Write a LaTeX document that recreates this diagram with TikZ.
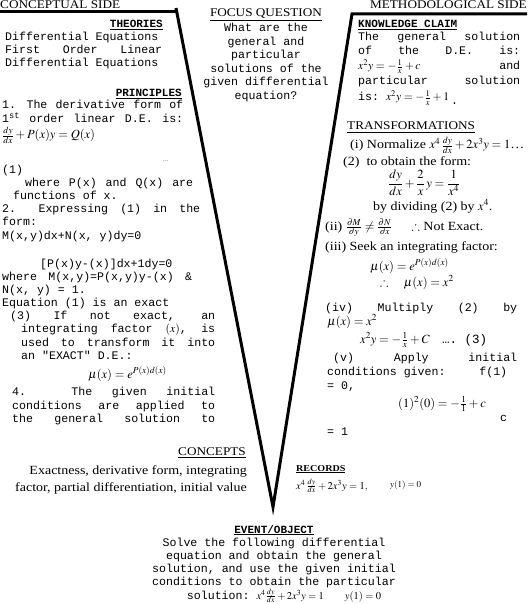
\documentclass[tikz,border=0pt]{standalone}
\usepackage{mathptmx}
\usepackage{amssymb}
\usepackage{fontspec}
\setmainfont{Liberation Serif}[FakeStretch=1.12]
\setmonofont{Liberation Mono}
\usepackage{tikz}

\newcommand\mtxt{\ttfamily\fontsize{11.6}{13}\selectfont}
\newcommand\mhead{\ttfamily\bfseries\fontsize{11}{13}\selectfont}
\newcommand\stxt{\rmfamily\fontsize{12.5}{14}\selectfont}
\newcommand\shead{\rmfamily\fontsize{11.8}{14}\selectfont}
\newcommand\spreadto[2]{\makebox[#1][s]{\spaceskip=.6em plus 1fil\relax#2}}

\tikzset{
  vee/.style={line width=3pt,line join=miter},
  ln/.style={inner sep=0pt,anchor=base west,yshift=-4pt,font=\mtxt},
  lnr/.style={ln,anchor=base east},
  lnc/.style={ln,anchor=base},
  hd/.style={ln,font=\mhead},
  st/.style={ln,font=\stxt},
  sh/.style={ln,font=\shead}
}

\begin{document}
\begin{tikzpicture}[x=1pt,y=-1pt]
  \useasboundingbox (0,0) rectangle (527,604);
  % the vee
  \coordinate (l0) at (0,12); \coordinate (lc) at (176,12);
  \coordinate (lt) at (176,8); \coordinate (tip) at (273,507);
  \coordinate (rt) at (352,14); \coordinate (r0) at (527,14);
  \draw[vee] (l0) -- (lc);
  \draw[vee] (lt) -- (tip) -- (rt) -- (r0);

  % conceptual side
  \node[sh] (csd) at (0,5) {CONCEPTUAL SIDE};
  \node[hd,anchor=base east] (thhead) at (163,24) {\underline{THEORIES}};
  \node[ln] (th1) at (5,37) {Differential Equations};
  \node[ln] (th2) at (5,50) {\spreadto{157pt}{First Order Linear}};
  \node[ln] (th3) at (5,63) {Differential Equations};

  \node[hd,anchor=base east] (prhead) at (182,93) {\underline{PRINCIPLES}};
  \node[ln] (pr1) at (2,105) {\spreadto{181pt}{1. The derivative form of}};
  \node[ln] (pr2) at (2,119) {\spreadto{181pt}{1\textsuperscript{st} order linear D.E. is:}};
  \node[st] (pr3) at (2,135) {$\frac{dy}{dx}+P(x)y=Q(x)$};
  \node[ln,font=\rmfamily\tiny] (pr4) at (163,157) {\dots};
  \node[ln] (pr5) at (2,169) {(1)};
  \node[ln] (pr6) at (25,182) {\spreadto{168pt}{where P(x) and Q(x) are}};
  \node[ln] (pr7) at (13,195) {functions of x.};
  \node[ln] (pr8) at (2,208) {\spreadto{198pt}{2. Expressing (1) in the}};
  \node[ln] (pr9) at (2,221) {form:};
  \node[ln] (pr10) at (2,235) {M(x,y)dx+N(x, y)dy=0};
  \node[ln] (pr11) at (40,263) {[P(x)y-(x)]dx+1dy=0};
  \node[ln] (pr12) at (2,276) {\spreadto{190pt}{where M(x,y)=P(x,y)y-(x) \&}};
  \node[ln] (pr13) at (2,289) {N(x, y) = 1.};
  \node[ln] (pr14) at (2,302) {Equation (1) is an exact};
  \node[ln] (pr15) at (10,315) {\spreadto{205pt}{(3) If not exact, an}};
  \node[ln] (pr16) at (21,328) {\spreadto{194pt}{integrating factor {\rmfamily$(x)$}, is}};
  \node[ln] (pr17) at (21,342) {\spreadto{194pt}{used to transform it into}};
  \node[ln] (pr18) at (21,355) {an "EXACT" D.E.:};
  \node[st] (pr19) at (88,374) {$\mu(x)=e^{P(x)d(x)}$};
  \node[ln] (pr20) at (12,391) {\spreadto{203pt}{4. The given initial}};
  \node[ln] (pr21) at (12,405) {\spreadto{203pt}{conditions are applied to}};
  \node[ln] (pr22) at (12,418) {\spreadto{203pt}{the general solution to}};

  \node[sh,anchor=base east] (cohead) at (246,451) {\underline{CONCEPTS}};
  \node[st,anchor=base east] (co1) at (247,470) {Exactness, derivative form, integrating};
  \node[st,anchor=base east] (co2) at (247,487) {factor, partial differentiation, initial value};

  % focus question
  \node[sh,anchor=base] (fqhead) at (266,13) {\underline{FOCUS QUESTION}};
  \foreach \t [count=\i] in {What are the,general and,particular,solutions of the,given differential,equation?}
    {\node[lnc] (fq\i) at (266,14.5+13.5*\i) {\t};}

  % methodological side
  \node[sh,anchor=base east] (msd) at (527,5) {METHODOLOGICAL SIDE};
  \node[hd] (kchead) at (358,24) {\underline{KNOWLEDGE CLAIM}};
  \node[ln] (kc1) at (358,37) {\spreadto{162pt}{The general solution}};
  \node[ln] (kc2) at (358,51) {\spreadto{162pt}{of the D.E. is:}};
  \node[ln] (kc3) at (358,66) {\makebox[162pt][l]{{\rmfamily$x^2y=-\frac{1}{x}+c$}\hfill and}};
  \node[ln] (kc4) at (358,81) {\spreadto{162pt}{particular solution}};
  \node[ln] (kc5) at (358,97) {is: {\rmfamily$x^2y=-\frac{1}{x}+1$}\,\raisebox{-4pt}{.}};

  \node[sh] (trhead) at (347,126) {\underline{TRANSFORMATIONS}};
  \node[st] (tr1) at (350,145) {(i) Normalize $x^4\,\frac{dy}{dx}+2x^3y=1$\dots};
  \node[st] (tr2) at (343,161) {(2)\ \ to obtain the form:};
  \node[st] (tr3) at (388,183) {$\displaystyle\frac{dy}{dx}+\frac{2}{x}\,y=\frac{1}{x^4}$};
  \node[st] (tr4) at (373,206) {by dividing (2) by $x^4$.};
  \node[st] (tr5) at (325,226) {(ii) $\frac{\partial M}{\partial y}\ne\frac{\partial N}{\partial x}$\quad\ \ $\therefore$ Not Exact.};
  \node[st] (tr6) at (325,246) {(iii) Seek an integrating factor:};
  \node[st] (tr7) at (370,266) {$\mu(x)=e^{P(x)d(x)}$};
  \node[st] (tr8) at (380,282) {$\therefore\quad\mu(x)=x^2$};
  \node[ln] (tr9) at (325,307) {\spreadto{192pt}{(iv) Multiply (2) by}};
  \node[st] (tr10) at (327,321) {$\mu(x)=x^2$};
  \node[st] (tr11) at (360,339) {$x^2y=-\frac{1}{x}+C$\quad\texttt{\dots. (3)}};
  \node[ln] (tr12) at (333,357) {\spreadto{184pt}{(v) Apply initial}};
  \node[ln] (tr13) at (327,371) {\makebox[180pt][l]{conditions given:\hfill f(1)}};
  \node[ln] (tr14) at (327,385) {= 0,};
  \node[st] (tr15) at (398,403) {$(1)^2(0)=-\frac{1}{1}+c$};
  \node[ln] (tr16) at (500,417) {c};
  \node[ln] (tr17) at (327,431) {= 1};

  % records and event
  \node[ln,font=\rmfamily\bfseries\fontsize{9}{10}\selectfont] (rechead) at (296,467) {\underline{RECORDS}};
  \node[ln,font=\rmfamily\fontsize{10.5}{12}\selectfont] (rec1) at (296,485) {$x^4\,\frac{dy}{dx}+2x^3y=1,$};
  \node[ln,font=\rmfamily\small] (rec2) at (390,483) {$y(1)=0$};

  \node[hd,anchor=base] (evhead) at (274,529) {\underline{EVENT/OBJECT}};
  \foreach \t [count=\i] in {Solve the following differential,equation and obtain the general,{solution, and use the given initial},conditions to obtain the particular}
    {\node[lnc] (ev\i) at (274,529+13*\i) {\t};}
  \node[lnc] (ev5) at (284,595) {solution: {\rmfamily\fontsize{10.5}{12}\selectfont$x^4\frac{dy}{dx}+2x^3y=1$\qquad$y(1)=0$}};
\end{tikzpicture}
\end{document}
